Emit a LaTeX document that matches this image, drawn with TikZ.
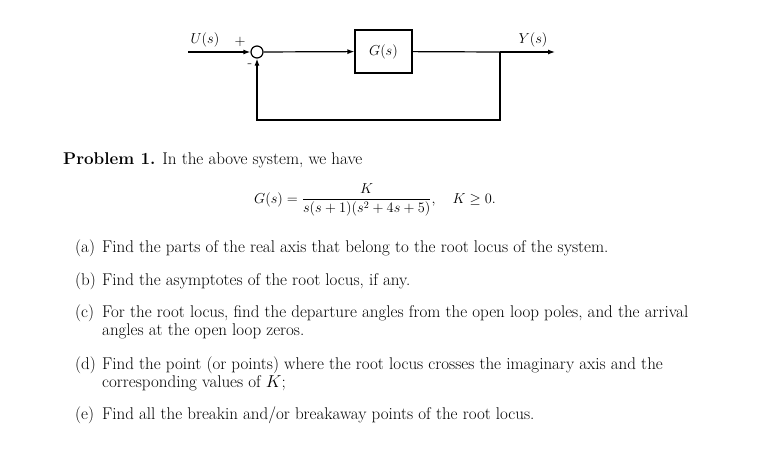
\documentclass[tikz,border=0pt]{standalone}
\usepackage{amsmath,amssymb}
\usetikzlibrary{arrows.meta}
\begin{document}
\begin{tikzpicture}[x=1pt,y=-1pt,
  txt/.style={inner sep=0pt,anchor=west,font=\fontsize{17}{18}\selectfont},
  item/.style={inner sep=0pt,anchor=north west,align=left,font=\fontsize{17}{18}\selectfont},
  lbl/.style={inner sep=0pt,font=\fontsize{15}{17}\selectfont},
  blk/.style={draw,line width=1.2pt,minimum width=57pt,minimum height=43pt},
  ln/.style={line width=1.2pt},
  arr/.style={ln,-{Latex[length=7pt,width=5pt]}}]
\useasboundingbox (0,0) rectangle (773,450);
\node[draw,circle,line width=1.2pt,minimum size=12pt,inner sep=0pt] (sum) at (257,52) {};
\coordinate (in) at (188,52);
\node[blk] (G) at (383.5,51.5) {\fontsize{15}{17}\selectfont$G(s)$};
\coordinate (br) at (500,52);
\coordinate (out) at (555,52);
\coordinate (b1) at (500,120);
\coordinate (b2) at (257,120);
\draw[arr] (in) -- (sum);
\draw[arr] (sum) -- (G);
\draw[ln] (G) -- (br);
\draw[arr] (br) -- (out);
\draw[arr] (br) -- (b1) -- (b2) -- (sum);
\node[lbl] (u) at (205,40) {$U(s)$};
\node[lbl] (y) at (533,40) {$Y(s)$};
\node[lbl] (p) at (240,42) {$+$};
\node[lbl] (m) at (250,66) {-};
\node[txt] (prob) at (63,160) {\textbf{Problem 1.} In the above system, we have};
\node[inner sep=0pt,font=\fontsize{14.8}{18}\selectfont] (eq) at (375,200) {$\displaystyle G(s)=\frac{K}{s(s+1)(s^2+4s+5)},\quad K\geq 0.$};
\node[txt] (la) at (75,248) {(a)};
\node[txt] (lb) at (75,281) {(b)};
\node[txt] (lc) at (75,313) {(c)};
\node[txt] (ld) at (75,365) {(d)};
\node[txt] (le) at (75,415) {(e)};
\node[txt] (ta) at (102,248) {Find the parts of the real axis that belong to the root locus of the system.};
\node[txt] (tb) at (102,281) {Find the asymptotes of the root locus, if any.};
\node[item] (tc) at (102,305) {For the root locus, find the departure angles from the open loop poles, and the arrival\\ angles at the open loop zeros.};
\node[item] (td) at (102,357) {Find the point (or points) where the root locus crosses the imaginary axis and the\\ corresponding values of $K$;};
\node[txt] (te) at (102,415) {Find all the breakin and/or breakaway points of the root locus.};
\end{tikzpicture}
\end{document}
